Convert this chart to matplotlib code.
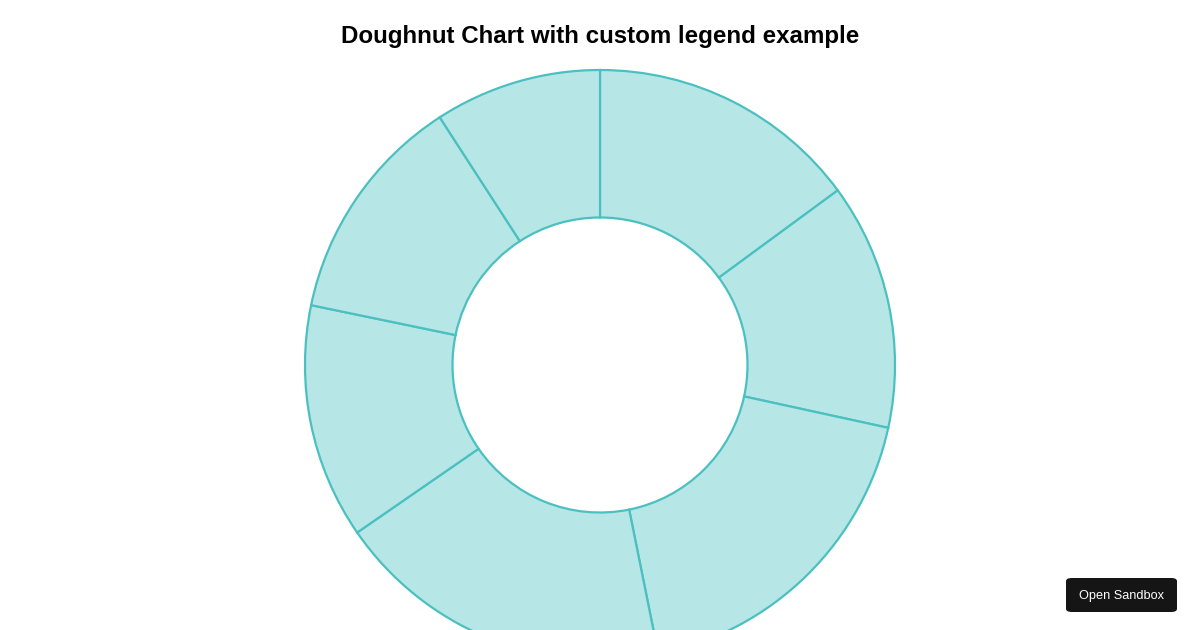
import matplotlib.pyplot as plt
from matplotlib.patches import FancyBboxPatch

labels = ['A', 'B', 'C', 'D', 'E', 'F', 'G']
values = [53.7, 48.6, 66.3, 66.8, 46.3, 45.4, 32.9]

FILL = '#b7e6e6'
EDGE = '#4bc0c0'
W, H = 1200, 630

plt.rcParams['font.family'] = ['Liberation Sans', 'DejaVu Sans']

fig = plt.figure(figsize=(W / 100, H / 100), dpi=100)
fig.patch.set_facecolor('white')

# pie centre at (600, 365) px, outer radius 295 px
cx, cy, r = 600, 365, 295
ax = fig.add_axes([(cx - r) / W, (H - cy - r) / H, 2 * r / W, 2 * r / H])
ax.pie(values, startangle=90, counterclock=False, radius=1.0,
       colors=[FILL] * len(values),
       wedgeprops=dict(width=0.5, edgecolor=EDGE, linewidth=1.6))
ax.set_xlim(-1, 1)
ax.set_ylim(-1, 1)
ax.set_aspect('auto')
ax.axis('off')
for p in ax.patches:
    p.set_clip_on(False)

fig.text(0.5, 1 - 43 / H, 'Doughnut Chart with custom legend example',
         ha='center', va='baseline', fontsize=17.4, fontweight='bold', color='black')

# "Open Sandbox" button
btn = FancyBboxPatch((1066 / W, 1 - 612 / H), 111 / W, 34 / H,
                     boxstyle='round,pad=0,rounding_size=0.005',
                     transform=fig.transFigure, facecolor='#151515',
                     edgecolor='none')
fig.patches.append(btn)
fig.text((1066 + 55.5) / W, 1 - 596 / H, 'Open Sandbox', ha='center', va='center',
         fontsize=9.2, color='white')

fig.savefig('out.png', dpi=100)
